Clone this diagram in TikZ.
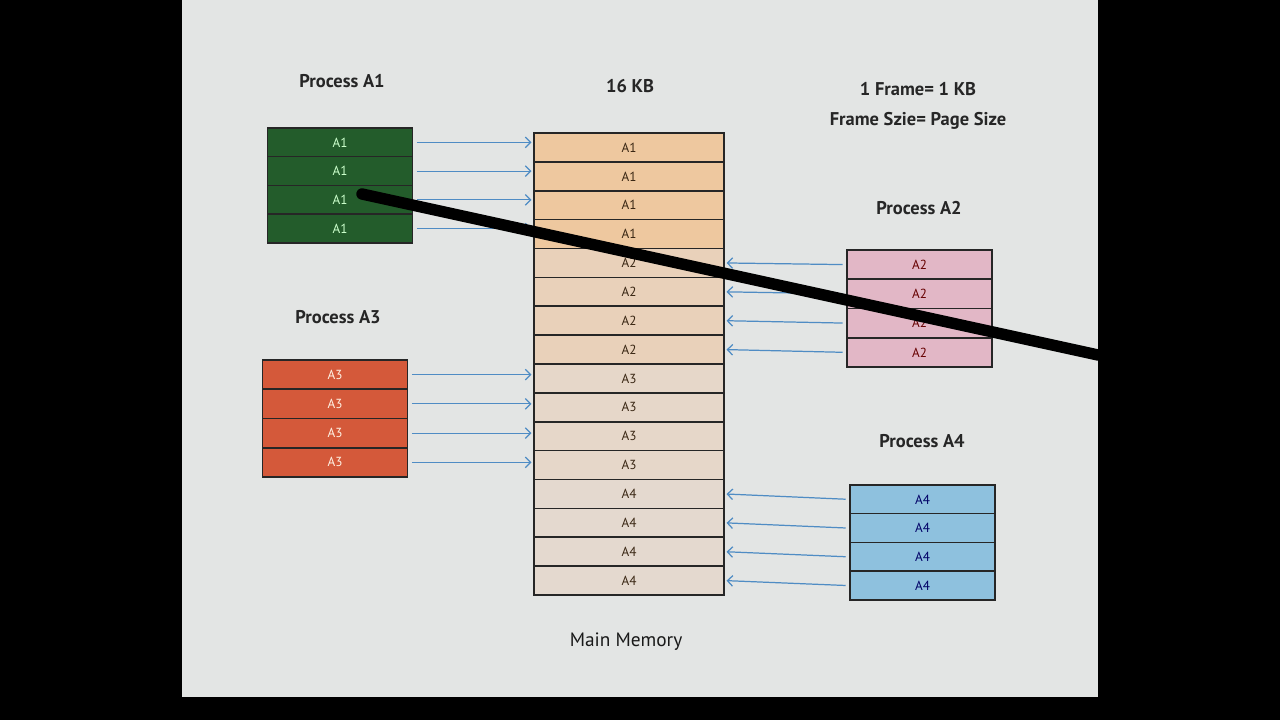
\documentclass[tikz,border=0pt]{standalone}
\usepackage{fontspec}
\setmainfont{PT Sans}
\usetikzlibrary{positioning,arrows.meta}

\definecolor{screen}{HTML}{E3E5E4}
\definecolor{procA1}{HTML}{235C2B}
\definecolor{procA2}{HTML}{E2B7C6}
\definecolor{procA3}{HTML}{D4593A}
\definecolor{procA4}{HTML}{8EC1DE}
\definecolor{memA1}{HTML}{EEC89F}
\definecolor{memA2}{HTML}{E9D1BA}
\definecolor{memA3}{HTML}{E6D7C9}
\definecolor{memA4}{HTML}{E4D9CF}
\definecolor{mapblue}{HTML}{4F8CC4}

\tikzset{
  cell/.style={draw=black!85, line width=0.9pt, minimum height=0.58cm,
    inner sep=0pt, font=\fontsize{7.5}{8}\selectfont},
  pcell/.style={cell, minimum width=2.9cm},
  mcell/.style={cell, minimum width=3.8cm, minimum height=0.5775cm},
  title/.style={font=\bfseries\fontsize{10.5}{12}\selectfont, text=black!85},
  map/.style={draw=mapblue, line width=0.7pt, -{Straight Barb[length=3pt,width=6pt]},
    shorten <=2pt, shorten >=1pt}
}

\begin{document}
\begin{tikzpicture}[x=0.02cm, y=-0.02cm]
        %% screen
        \fill[black] (0,0) rectangle (1280,720);
        \fill[screen] (182,0) rectangle (1098,697);
        %% titles
        \node[title] (t1) at (342,81) {Process A1};
        \node[title] (t2) at (919,208) {Process A2};
        \node[title] (t3) at (338,317) {Process A3};
        \node[title] (t4) at (922,441) {Process A4};
        \node[title] (size) at (630,86) {16 KB};
        \node[title] (frame) at (918,89) {1 Frame= 1 KB};
        \node[title] (page) at (918,121) {Frame Szie= Page Size};
        \node[font=\fontsize{11}{12}\selectfont, text=black!90] (mm) at (626,642) {Main Memory};
        %% main memory frames
        \foreach \i in {1,...,16} {
            \pgfmathtruncatemacro\p{int((\i-1)/4)+1}
            \node[mcell, fill=memA\p, text=black!70!brown] (m\i)
                at (629,{133+(\i-0.5)*28.875}) {A\p};
        }
        %% processes
        \foreach \i in {1,...,4} {
            \node[pcell, fill=procA1, text=white!80!green] (p1-\i) at (340,{128+(\i-0.5)*28.75}) {A1};
            \node[pcell, fill=procA2, text=black!60!red] (p2-\i) at (919.5,{250+(\i-0.5)*29.25}) {A2};
            \node[pcell, fill=procA3, text=white!90!orange] (p3-\i) at (335,{360+(\i-0.5)*29.25}) {A3};
            \node[pcell, fill=procA4, text=black!60!blue] (p4-\i) at (922.5,{485+(\i-0.5)*28.75}) {A4};
        }
        %% page -> frame
        \foreach \i in {1,...,4} {
            \pgfmathtruncatemacro\b{\i+4}
            \pgfmathtruncatemacro\c{\i+8}
            \pgfmathtruncatemacro\d{\i+12}
            \draw[map] (p1-\i.east) -- (p1-\i.east -| m\i.west);
            \draw[map] (p2-\i.west) -- (m\b.east);
            \draw[map] (p3-\i.east) -- (p3-\i.east -| m\c.west);
            \draw[map] (p4-\i.west) -- (m\d.east);
        }
        %% pen across the screen
        \draw[line width=6.5pt, line cap=round] (362,194) -- (1098,355);
\end{tikzpicture}
\end{document}
